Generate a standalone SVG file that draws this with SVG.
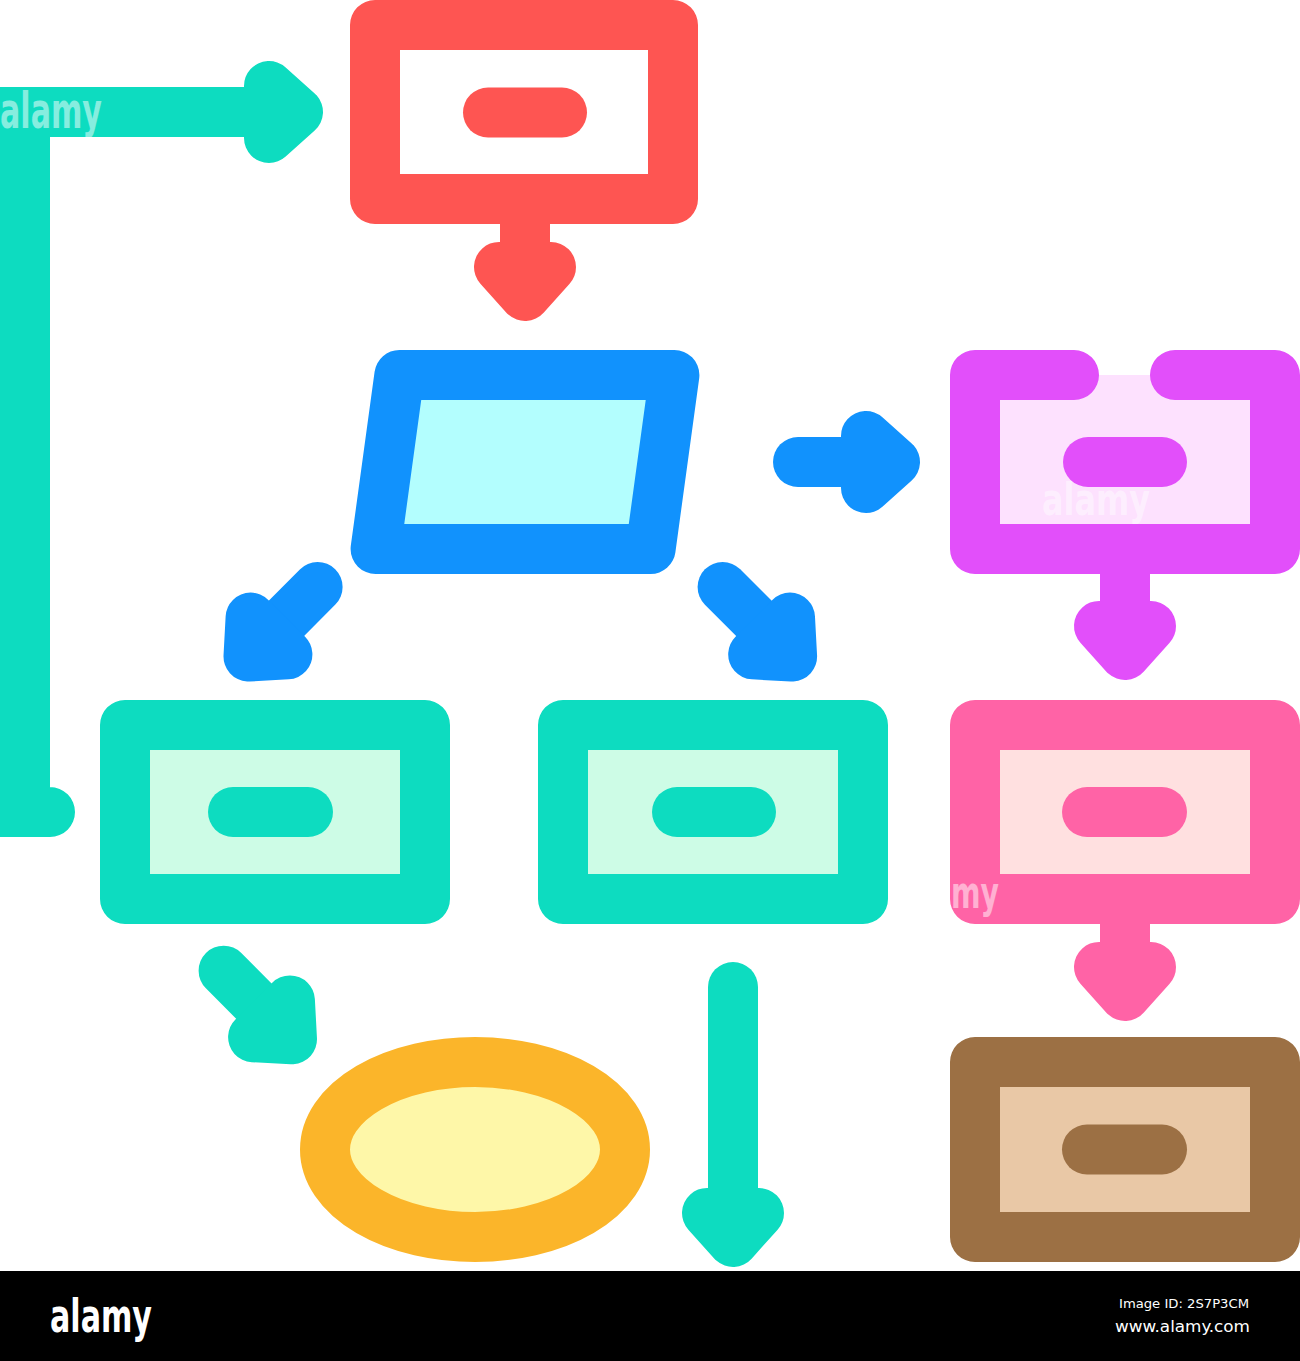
<svg xmlns="http://www.w3.org/2000/svg" width="1300" height="1361" viewBox="0 0 1300 1361">
<defs>
<style>
.ln{fill:none;stroke-width:50;stroke-linecap:round;stroke-linejoin:round}
.bx{stroke-width:50;stroke-linejoin:round}
.hd{stroke-width:50;stroke-linejoin:round}
.red{stroke:#fe5552}.redf{fill:#fe5552}
.tl{stroke:#0ddcc0}.tlf{fill:#0ddcc0}
.bl{stroke:#1192fd}.blf{fill:#1192fd}
.pu{stroke:#e24ffa}.puf{fill:#e24ffa}
.pk{stroke:#ff63a6}.pkf{fill:#ff63a6}
.br{stroke:#9c7044}
.wm{font-family:"DejaVu Sans Condensed","DejaVu Sans",sans-serif;font-weight:bold;fill:#ffffff}
</style>
</defs>
<rect width="1300" height="1361" fill="#ffffff"/>
<g id="connectors">
  <path d="M50 812 L25 812 L25 112 L269 112" fill="none" class="tl" stroke-width="50" stroke-linecap="round" stroke-linejoin="miter"/>
  <polygon class="hd tl tlf" points="269,86 269,138 298,112"/>
  <line class="ln red" x1="525" y1="199" x2="525" y2="267"/>
  <polygon class="hd red redf" points="499,267 551,267 525,296"/>
  <line class="ln bl" x1="798" y1="462" x2="866" y2="462"/>
  <polygon class="hd bl blf" points="866,436 866,488 895,462"/>
  <line class="ln bl" x1="317.6" y1="587" x2="269" y2="636"/>
  <polygon class="hd bl blf" points="287.4,654.4 250.6,617.6 248.5,656.5"/>
  <line class="ln bl" x1="722.6" y1="587" x2="771.6" y2="636"/>
  <polygon class="hd bl blf" points="753.2,654.4 790,617.6 792.1,656.5"/>
  <line class="ln pu" x1="1125" y1="549" x2="1125" y2="626"/>
  <polygon class="hd pu puf" points="1099,626 1151,626 1125,655"/>
  <line class="ln pk" x1="1125" y1="899" x2="1125" y2="967"/>
  <polygon class="hd pk pkf" points="1099,967 1151,967 1125,996"/>
  <line class="ln tl" x1="223.6" y1="970.7" x2="271.5" y2="1018.8"/>
  <polygon class="hd tl tlf" points="253.1,1037.2 289.9,1000.4 292,1039.3"/>
  <line class="ln tl" x1="733" y1="987" x2="733" y2="1213"/>
  <polygon class="hd tl tlf" points="707,1213 759,1213 733,1242"/>
</g>
<g id="node-red">
  <path class="bx red" fill="#ffffff" d="M375 25 H673 V199 H375 Z"/>
  <line class="ln red" x1="488" y1="112.5" x2="562" y2="112.5"/>
</g>
<g id="node-blue">
  <polygon class="bx bl" fill="#b3fefe" points="399.4,375 674.4,375 650.6,549 375.6,549"/>
</g>
<g id="node-purple">
  <rect x="975" y="375" width="300" height="174" fill="#fde1fe"/>
  <path class="ln pu" d="M1074 375 L975 375 L975 549 L1275 549 L1275 375 L1175 375"/>
  <line class="ln pu" x1="1088" y1="462" x2="1162" y2="462"/>
</g>
<g id="node-teal-left">
  <path class="bx tl" fill="#cdfce6" d="M125 725 H425 V899 H125 Z"/>
  <line class="ln tl" x1="233" y1="812" x2="308" y2="812"/>
</g>
<g id="node-teal-right">
  <path class="bx tl" fill="#cdfce6" d="M563 725 H863 V899 H563 Z"/>
  <line class="ln tl" x1="677" y1="812" x2="751" y2="812"/>
</g>
<g id="node-pink">
  <path class="bx pk" fill="#ffe0e0" d="M975 725 H1275 V899 H975 Z"/>
  <line class="ln pk" x1="1087" y1="812" x2="1162" y2="812"/>
</g>
<g id="node-ellipse">
  <ellipse cx="475" cy="1149.5" rx="150" ry="87.5" fill="#fef7a8" stroke="#fbb52a" stroke-width="50"/>
</g>
<g id="node-brown">
  <path class="bx br" fill="#e9c8a6" d="M975 1062 H1275 V1237 H975 Z"/>
  <line class="ln br" x1="1087" y1="1149.5" x2="1162" y2="1149.5"/>
</g>
<g id="watermark">
  <text class="wm" x="0" y="128" font-size="50" fill-opacity="0.5" textLength="102" lengthAdjust="spacingAndGlyphs">alamy</text>
  <text class="wm" x="1042" y="515" font-size="44" fill-opacity="0.45" textLength="108" lengthAdjust="spacingAndGlyphs">alamy</text>
  <text class="wm" x="951" y="908" font-size="44" fill-opacity="0.5" textLength="48" lengthAdjust="spacingAndGlyphs">my</text>
  <rect x="0" y="1271" width="1300" height="90" fill="#000000"/>
  <text class="wm" x="50" y="1332" font-size="46" textLength="102" lengthAdjust="spacingAndGlyphs">alamy</text>
  <text x="1249" y="1308" font-family="DejaVu Sans Condensed,DejaVu Sans,sans-serif" font-size="13" fill="#ffffff" text-anchor="end" textLength="130" lengthAdjust="spacingAndGlyphs">Image ID: 2S7P3CM</text>
  <text x="1250" y="1332" font-family="DejaVu Sans Condensed,DejaVu Sans,sans-serif" font-size="16" fill="#ffffff" text-anchor="end" textLength="135" lengthAdjust="spacingAndGlyphs">www.alamy.com</text>
</g>
</svg>
